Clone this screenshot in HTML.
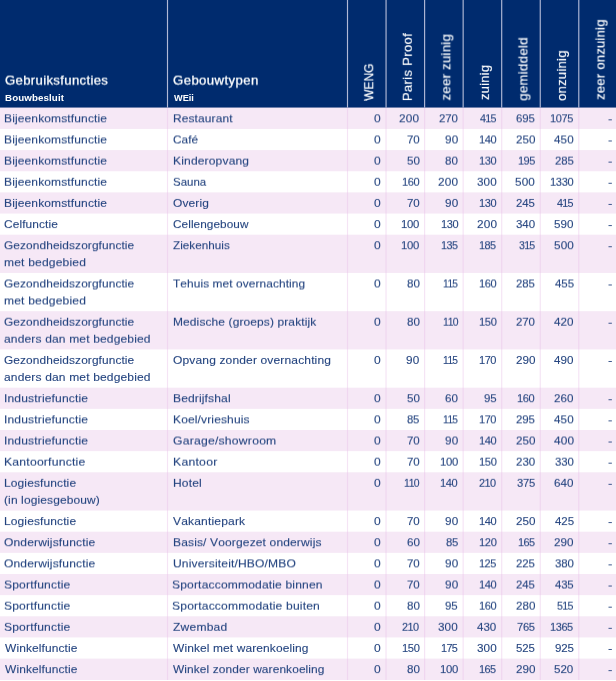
<!DOCTYPE html>
<html lang="nl"><head><meta charset="utf-8"><title>Gebruiksfuncties</title>
<style>
html,body{margin:0;padding:0;background:#fff;}
body{width:616px;height:681px;overflow:hidden;position:relative;font-family:"Liberation Sans",sans-serif;color:#23437f;font-size:11.6px;font-kerning:none;}
#t{position:absolute;left:0;top:0;width:616px;height:681px;overflow:hidden;}
#bg{position:absolute;left:0;top:0;}
.L{position:absolute;left:0;width:620px;transform-origin:0 0;}
.c,.h1,.h2{transform-origin:0 50%;}
.c{position:absolute;white-space:nowrap;line-height:14px;height:14px;top:0;-webkit-text-stroke:0.1px #23437f;}
.c.b{top:17px;}
.h1{position:absolute;color:#fff;font-size:12.1px;white-space:nowrap;line-height:16px;height:16px;-webkit-text-stroke:0.25px #fff;}
.h2{position:absolute;color:#fff;font-size:9.5px;font-weight:bold;-webkit-text-stroke:0px #fff;white-space:nowrap;line-height:14px;height:14px;}
.rh{position:absolute;color:#fff;font-size:12px;white-space:nowrap;line-height:14px;height:14px;transform-origin:0 0;transform:rotate(-90deg);-webkit-text-stroke:0.15px #fff;}
</style></head><body><div id="t">

<svg id="bg" width="616" height="681" viewBox="0 0 616 681"><rect x="0" y="0" width="616" height="681" fill="#fff"/><rect x="-1" y="107.05" width="618" height="21.90" fill="#f6e8f6"/><rect x="-1" y="150.10" width="618" height="21.15" fill="#f6e8f6"/><rect x="-1" y="192.40" width="618" height="21.15" fill="#f6e8f6"/><rect x="-1" y="234.70" width="618" height="38.25" fill="#f6e8f6"/><rect x="-1" y="311.20" width="618" height="38.25" fill="#f6e8f6"/><rect x="-1" y="387.70" width="618" height="21.15" fill="#f6e8f6"/><rect x="-1" y="430.00" width="618" height="21.15" fill="#f6e8f6"/><rect x="-1" y="472.30" width="618" height="38.25" fill="#f6e8f6"/><rect x="-1" y="531.70" width="618" height="21.15" fill="#f6e8f6"/><rect x="-1" y="574.00" width="618" height="21.15" fill="#f6e8f6"/><rect x="-1" y="616.30" width="618" height="21.15" fill="#f6e8f6"/><rect x="-1" y="658.60" width="618" height="21.40" fill="#f6e8f6"/><rect x="-1" y="-1" width="618" height="108.55" fill="#002b6e"/><rect x="166.93" y="-1" width="1.15" height="108.55" fill="#b0b9d6"/><rect x="166.93" y="107.55" width="1.15" height="572.45" fill="#e6bfe6" fill-opacity="0.42"/><rect x="346.93" y="-1" width="1.15" height="108.55" fill="#b0b9d6"/><rect x="346.93" y="107.55" width="1.15" height="572.45" fill="#e6bfe6" fill-opacity="0.42"/><rect x="385.48" y="-1" width="1.15" height="108.55" fill="#b0b9d6"/><rect x="385.48" y="107.55" width="1.15" height="572.45" fill="#e6bfe6" fill-opacity="0.42"/><rect x="424.03" y="-1" width="1.15" height="108.55" fill="#b0b9d6"/><rect x="424.03" y="107.55" width="1.15" height="572.45" fill="#e6bfe6" fill-opacity="0.42"/><rect x="462.57" y="-1" width="1.15" height="108.55" fill="#b0b9d6"/><rect x="462.57" y="107.55" width="1.15" height="572.45" fill="#e6bfe6" fill-opacity="0.42"/><rect x="501.12" y="-1" width="1.15" height="108.55" fill="#b0b9d6"/><rect x="501.12" y="107.55" width="1.15" height="572.45" fill="#e6bfe6" fill-opacity="0.42"/><rect x="539.67" y="-1" width="1.15" height="108.55" fill="#b0b9d6"/><rect x="539.67" y="107.55" width="1.15" height="572.45" fill="#e6bfe6" fill-opacity="0.42"/><rect x="578.22" y="-1" width="1.15" height="108.55" fill="#b0b9d6"/><rect x="578.22" y="107.55" width="1.15" height="572.45" fill="#e6bfe6" fill-opacity="0.42"/></svg>
<div class="L" style="top:72px;height:18px;transform:translate3d(0.00px,0.60px,0) perspective(100000px) rotateX(0.01deg)">
<div class="h1" style="left:4.64px;letter-spacing:0.313px;transform:scaleX(1.0857)">Gebruiksfuncties</div>
<div class="h1" style="left:173.04px;letter-spacing:0.391px;transform:scaleX(1.0870)">Gebouwtypen</div>
</div>
<div class="L" style="top:91px;height:16px;transform:translate3d(0.00px,0.01px,0) perspective(100000px) rotateX(0.01deg)">
<div class="h2" style="left:4.65px;letter-spacing:0.097px;transform:scaleX(1.0267)">Bouwbesluit</div>
<div class="h2" style="left:173.69px;letter-spacing:0.000px;transform:scaleX(0.9648)">WEii</div>
</div>
<div style="position:absolute;left:362px;top:100px;width:16px;height:2px;transform-origin:0 0;transform:translate3d(0.24px,0.85px,0) perspective(100000px) rotateX(0.01deg)"><div class="rh" style="left:0;top:0;letter-spacing:0.016px;transform:rotate(-90deg) scaleX(1.0020)">WENG</div></div>
<div style="position:absolute;left:400px;top:101px;width:16px;height:2px;transform-origin:0 0;transform:translate3d(0.79px,0.07px,0) perspective(100000px) rotateX(0.01deg)"><div class="rh" style="left:0;top:0;letter-spacing:0.306px;transform:rotate(-90deg) scaleX(1.0854)">Paris Proof</div></div>
<div style="position:absolute;left:439px;top:100px;width:16px;height:2px;transform-origin:0 0;transform:translate3d(0.34px,0.43px,0) perspective(100000px) rotateX(0.01deg)"><div class="rh" style="left:0;top:0;letter-spacing:0.299px;transform:rotate(-90deg) scaleX(1.0859)">zeer zuinig</div></div>
<div style="position:absolute;left:477px;top:100px;width:16px;height:2px;transform-origin:0 0;transform:translate3d(0.89px,0.02px,0) perspective(100000px) rotateX(0.01deg)"><div class="rh" style="left:0;top:0;letter-spacing:0.269px;transform:rotate(-90deg) scaleX(1.0719)">zuinig</div></div>
<div style="position:absolute;left:516px;top:100px;width:16px;height:2px;transform-origin:0 0;transform:translate3d(0.44px,0.70px,0) perspective(100000px) rotateX(0.01deg)"><div class="rh" style="left:0;top:0;letter-spacing:0.361px;transform:rotate(-90deg) scaleX(1.0871)">gemiddeld</div></div>
<div style="position:absolute;left:554px;top:100px;width:16px;height:2px;transform-origin:0 0;transform:translate3d(0.99px,0.84px,0) perspective(100000px) rotateX(0.01deg)"><div class="rh" style="left:0;top:0;letter-spacing:0.303px;transform:rotate(-90deg) scaleX(1.0790)">onzuinig</div></div>
<div style="position:absolute;left:593px;top:99px;width:16px;height:2px;transform-origin:0 0;transform:translate3d(0.54px,0.82px,0) perspective(100000px) rotateX(0.01deg)"><div class="rh" style="left:0;top:0;letter-spacing:0.275px;transform:rotate(-90deg) scaleX(1.0760)">zeer onzuinig</div></div>
<div class="L" style="top:111px;height:16px;transform:translate3d(0.00px,0.33px,0) perspective(100000px) rotateX(0.01deg)">
<div class="c" style="left:4.33px;letter-spacing:0.128px;transform:scaleX(1.0352)">Bijeenkomstfunctie</div>
<div class="c" style="left:172.63px;letter-spacing:0.120px;transform:scaleX(1.0299)">Restaurant</div>
<div class="c" style="left:373.79px;letter-spacing:0.000px;transform:scaleX(1.0391)">0</div>
<div class="c" style="left:399.47px;letter-spacing:0.170px;transform:scaleX(1.0189)">200</div>
<div class="c" style="left:439.05px;letter-spacing:-0.082px;transform:scaleX(0.9911)">270</div>
<div class="c" style="left:480.02px;letter-spacing:-0.751px;transform:scaleX(0.9253)">415</div>
<div class="c" style="left:516.25px;letter-spacing:-0.121px;transform:scaleX(0.9870)">695</div>
<div class="c" style="left:550.38px;letter-spacing:-0.434px;transform:scaleX(0.9494)">1075</div>
<div class="c" style="left:607.93px;letter-spacing:0.000px;transform:scaleX(1.1452)">-</div>
</div>
<div class="L" style="top:132px;height:16px;transform:translate3d(0.00px,0.48px,0) perspective(100000px) rotateX(0.01deg)">
<div class="c" style="left:4.33px;letter-spacing:0.128px;transform:scaleX(1.0352)">Bijeenkomstfunctie</div>
<div class="c" style="left:172.52px;letter-spacing:0.087px;transform:scaleX(1.0169)">Café</div>
<div class="c" style="left:373.79px;letter-spacing:0.000px;transform:scaleX(1.0391)">0</div>
<div class="c" style="left:406.78px;letter-spacing:-0.074px;transform:scaleX(0.9938)">70</div>
<div class="c" style="left:444.91px;letter-spacing:0.129px;transform:scaleX(1.0110)">90</div>
<div class="c" style="left:478.96px;letter-spacing:-0.431px;transform:scaleX(0.9543)">140</div>
<div class="c" style="left:515.65px;letter-spacing:0.043px;transform:scaleX(1.0048)">250</div>
<div class="c" style="left:554.08px;letter-spacing:0.073px;transform:scaleX(1.0079)">450</div>
<div class="c" style="left:607.93px;letter-spacing:0.000px;transform:scaleX(1.1452)">-</div>
</div>
<div class="L" style="top:153px;height:16px;transform:translate3d(0.00px,0.63px,0) perspective(100000px) rotateX(0.01deg)">
<div class="c" style="left:4.33px;letter-spacing:0.128px;transform:scaleX(1.0352)">Bijeenkomstfunctie</div>
<div class="c" style="left:172.62px;letter-spacing:0.155px;transform:scaleX(1.0381)">Kinderopvang</div>
<div class="c" style="left:373.79px;letter-spacing:0.000px;transform:scaleX(1.0391)">0</div>
<div class="c" style="left:406.63px;letter-spacing:-0.001px;transform:scaleX(0.9999)">50</div>
<div class="c" style="left:445.11px;letter-spacing:0.031px;transform:scaleX(1.0026)">80</div>
<div class="c" style="left:479.07px;letter-spacing:-0.459px;transform:scaleX(0.9515)">130</div>
<div class="c" style="left:517.75px;letter-spacing:-0.511px;transform:scaleX(0.9463)">195</div>
<div class="c" style="left:554.87px;letter-spacing:-0.140px;transform:scaleX(0.9850)">285</div>
<div class="c" style="left:607.93px;letter-spacing:0.000px;transform:scaleX(1.1452)">-</div>
</div>
<div class="L" style="top:174px;height:16px;transform:translate3d(0.00px,0.78px,0) perspective(100000px) rotateX(0.01deg)">
<div class="c" style="left:4.33px;letter-spacing:0.128px;transform:scaleX(1.0352)">Bijeenkomstfunctie</div>
<div class="c" style="left:172.52px;letter-spacing:0.000px;transform:scaleX(0.9889)">Sauna</div>
<div class="c" style="left:373.79px;letter-spacing:0.000px;transform:scaleX(1.0391)">0</div>
<div class="c" style="left:401.79px;letter-spacing:-0.412px;transform:scaleX(0.9563)">160</div>
<div class="c" style="left:438.02px;letter-spacing:0.170px;transform:scaleX(1.0189)">200</div>
<div class="c" style="left:476.93px;letter-spacing:0.085px;transform:scaleX(1.0093)">300</div>
<div class="c" style="left:515.36px;letter-spacing:0.113px;transform:scaleX(1.0124)">500</div>
<div class="c" style="left:550.09px;letter-spacing:-0.371px;transform:scaleX(0.9565)">1330</div>
<div class="c" style="left:607.93px;letter-spacing:0.000px;transform:scaleX(1.1452)">-</div>
</div>
<div class="L" style="top:195px;height:16px;transform:translate3d(0.00px,0.93px,0) perspective(100000px) rotateX(0.01deg)">
<div class="c" style="left:4.33px;letter-spacing:0.128px;transform:scaleX(1.0352)">Bijeenkomstfunctie</div>
<div class="c" style="left:172.55px;letter-spacing:0.130px;transform:scaleX(1.0306)">Overig</div>
<div class="c" style="left:373.79px;letter-spacing:0.000px;transform:scaleX(1.0391)">0</div>
<div class="c" style="left:406.78px;letter-spacing:-0.074px;transform:scaleX(0.9938)">70</div>
<div class="c" style="left:444.91px;letter-spacing:0.129px;transform:scaleX(1.0110)">90</div>
<div class="c" style="left:479.07px;letter-spacing:-0.459px;transform:scaleX(0.9515)">130</div>
<div class="c" style="left:516.34px;letter-spacing:-0.143px;transform:scaleX(0.9846)">245</div>
<div class="c" style="left:557.12px;letter-spacing:-0.751px;transform:scaleX(0.9253)">415</div>
<div class="c" style="left:607.93px;letter-spacing:0.000px;transform:scaleX(1.1452)">-</div>
</div>
<div class="L" style="top:217px;height:16px;transform:translate3d(0.00px,0.08px,0) perspective(100000px) rotateX(0.01deg)">
<div class="c" style="left:4.21px;letter-spacing:0.100px;transform:scaleX(1.0276)">Celfunctie</div>
<div class="c" style="left:172.52px;letter-spacing:0.069px;transform:scaleX(1.0158)">Cellengebouw</div>
<div class="c" style="left:373.79px;letter-spacing:0.000px;transform:scaleX(1.0391)">0</div>
<div class="c" style="left:401.11px;letter-spacing:-0.233px;transform:scaleX(0.9748)">100</div>
<div class="c" style="left:440.52px;letter-spacing:-0.459px;transform:scaleX(0.9515)">130</div>
<div class="c" style="left:476.57px;letter-spacing:0.170px;transform:scaleX(1.0189)">200</div>
<div class="c" style="left:516.10px;letter-spacing:-0.070px;transform:scaleX(0.9925)">340</div>
<div class="c" style="left:554.36px;letter-spacing:0.003px;transform:scaleX(1.0003)">590</div>
<div class="c" style="left:607.93px;letter-spacing:0.000px;transform:scaleX(1.1452)">-</div>
</div>
<div class="L" style="top:238px;height:34px;transform:translate3d(0.00px,0.23px,0) perspective(100000px) rotateX(0.01deg)">
<div class="c" style="left:4.22px;letter-spacing:0.096px;transform:scaleX(1.0249)">Gezondheidszorgfunctie</div>
<div class="c b" style="left:4.35px;letter-spacing:0.163px;transform:scaleX(1.0406)">met bedgebied</div>
<div class="c" style="left:172.78px;letter-spacing:0.034px;transform:scaleX(1.0083)">Ziekenhuis</div>
<div class="c" style="left:373.79px;letter-spacing:0.000px;transform:scaleX(1.0391)">0</div>
<div class="c" style="left:401.11px;letter-spacing:-0.233px;transform:scaleX(0.9748)">100</div>
<div class="c" style="left:441.05px;letter-spacing:-0.621px;transform:scaleX(0.9354)">135</div>
<div class="c" style="left:479.42px;letter-spacing:-0.572px;transform:scaleX(0.9402)">185</div>
<div class="c" style="left:518.82px;letter-spacing:-0.822px;transform:scaleX(0.9181)">315</div>
<div class="c" style="left:553.91px;letter-spacing:0.113px;transform:scaleX(1.0124)">500</div>
<div class="c" style="left:607.93px;letter-spacing:0.000px;transform:scaleX(1.1452)">-</div>
</div>
<div class="L" style="top:276px;height:34px;transform:translate3d(0.00px,0.48px,0) perspective(100000px) rotateX(0.01deg)">
<div class="c" style="left:4.22px;letter-spacing:0.096px;transform:scaleX(1.0249)">Gezondheidszorgfunctie</div>
<div class="c b" style="left:4.35px;letter-spacing:0.163px;transform:scaleX(1.0406)">met bedgebied</div>
<div class="c" style="left:172.71px;letter-spacing:0.091px;transform:scaleX(1.0245)">Tehuis met overnachting</div>
<div class="c" style="left:373.79px;letter-spacing:0.000px;transform:scaleX(1.0391)">0</div>
<div class="c" style="left:406.56px;letter-spacing:0.031px;transform:scaleX(1.0026)">80</div>
<div class="c" style="left:443.04px;letter-spacing:-1.212px;transform:scaleX(0.8812)">115</div>
<div class="c" style="left:478.89px;letter-spacing:-0.412px;transform:scaleX(0.9563)">160</div>
<div class="c" style="left:516.32px;letter-spacing:-0.140px;transform:scaleX(0.9850)">285</div>
<div class="c" style="left:554.60px;letter-spacing:-0.071px;transform:scaleX(0.9925)">455</div>
<div class="c" style="left:607.93px;letter-spacing:0.000px;transform:scaleX(1.1452)">-</div>
</div>
<div class="L" style="top:314px;height:34px;transform:translate3d(0.00px,0.73px,0) perspective(100000px) rotateX(0.01deg)">
<div class="c" style="left:4.22px;letter-spacing:0.096px;transform:scaleX(1.0249)">Gezondheidszorgfunctie</div>
<div class="c b" style="left:4.32px;letter-spacing:0.143px;transform:scaleX(1.0374)">anders dan met bedgebied</div>
<div class="c" style="left:172.63px;letter-spacing:0.112px;transform:scaleX(1.0321)">Medische (groeps) praktijk</div>
<div class="c" style="left:373.79px;letter-spacing:0.000px;transform:scaleX(1.0391)">0</div>
<div class="c" style="left:406.56px;letter-spacing:0.031px;transform:scaleX(1.0026)">80</div>
<div class="c" style="left:442.51px;letter-spacing:-1.030px;transform:scaleX(0.8974)">110</div>
<div class="c" style="left:478.74px;letter-spacing:-0.371px;transform:scaleX(0.9604)">150</div>
<div class="c" style="left:516.15px;letter-spacing:-0.082px;transform:scaleX(0.9911)">270</div>
<div class="c" style="left:554.10px;letter-spacing:0.067px;transform:scaleX(1.0073)">420</div>
<div class="c" style="left:607.93px;letter-spacing:0.000px;transform:scaleX(1.1452)">-</div>
</div>
<div class="L" style="top:352px;height:34px;transform:translate3d(0.00px,0.98px,0) perspective(100000px) rotateX(0.01deg)">
<div class="c" style="left:4.22px;letter-spacing:0.096px;transform:scaleX(1.0249)">Gezondheidszorgfunctie</div>
<div class="c b" style="left:4.32px;letter-spacing:0.143px;transform:scaleX(1.0374)">anders dan met bedgebied</div>
<div class="c" style="left:172.55px;letter-spacing:0.139px;transform:scaleX(1.0367)">Opvang zonder overnachting</div>
<div class="c" style="left:373.79px;letter-spacing:0.000px;transform:scaleX(1.0391)">0</div>
<div class="c" style="left:406.36px;letter-spacing:0.129px;transform:scaleX(1.0110)">90</div>
<div class="c" style="left:443.04px;letter-spacing:-1.212px;transform:scaleX(0.8812)">115</div>
<div class="c" style="left:479.10px;letter-spacing:-0.469px;transform:scaleX(0.9505)">170</div>
<div class="c" style="left:515.58px;letter-spacing:0.061px;transform:scaleX(1.0067)">290</div>
<div class="c" style="left:554.30px;letter-spacing:0.019px;transform:scaleX(1.0021)">490</div>
<div class="c" style="left:607.93px;letter-spacing:0.000px;transform:scaleX(1.1452)">-</div>
</div>
<div class="L" style="top:391px;height:16px;transform:translate3d(0.00px,0.23px,0) perspective(100000px) rotateX(0.01deg)">
<div class="c" style="left:4.20px;letter-spacing:0.137px;transform:scaleX(1.0416)">Industriefunctie</div>
<div class="c" style="left:172.62px;letter-spacing:0.131px;transform:scaleX(1.0389)">Bedrijfshal</div>
<div class="c" style="left:373.79px;letter-spacing:0.000px;transform:scaleX(1.0391)">0</div>
<div class="c" style="left:406.63px;letter-spacing:-0.001px;transform:scaleX(0.9999)">50</div>
<div class="c" style="left:445.08px;letter-spacing:0.044px;transform:scaleX(1.0037)">60</div>
<div class="c" style="left:483.99px;letter-spacing:-0.159px;transform:scaleX(0.9868)">95</div>
<div class="c" style="left:517.44px;letter-spacing:-0.412px;transform:scaleX(0.9563)">160</div>
<div class="c" style="left:554.35px;letter-spacing:0.006px;transform:scaleX(1.0007)">260</div>
<div class="c" style="left:607.93px;letter-spacing:0.000px;transform:scaleX(1.1452)">-</div>
</div>
<div class="L" style="top:412px;height:16px;transform:translate3d(0.00px,0.38px,0) perspective(100000px) rotateX(0.01deg)">
<div class="c" style="left:4.20px;letter-spacing:0.137px;transform:scaleX(1.0416)">Industriefunctie</div>
<div class="c" style="left:172.63px;letter-spacing:0.128px;transform:scaleX(1.0364)">Koel/vrieshuis</div>
<div class="c" style="left:373.79px;letter-spacing:0.000px;transform:scaleX(1.0391)">0</div>
<div class="c" style="left:407.09px;letter-spacing:-0.263px;transform:scaleX(0.9784)">85</div>
<div class="c" style="left:443.04px;letter-spacing:-1.212px;transform:scaleX(0.8812)">115</div>
<div class="c" style="left:479.10px;letter-spacing:-0.469px;transform:scaleX(0.9505)">170</div>
<div class="c" style="left:516.10px;letter-spacing:-0.084px;transform:scaleX(0.9909)">295</div>
<div class="c" style="left:554.08px;letter-spacing:0.073px;transform:scaleX(1.0079)">450</div>
<div class="c" style="left:607.93px;letter-spacing:0.000px;transform:scaleX(1.1452)">-</div>
</div>
<div class="L" style="top:433px;height:16px;transform:translate3d(0.00px,0.53px,0) perspective(100000px) rotateX(0.01deg)">
<div class="c" style="left:4.20px;letter-spacing:0.137px;transform:scaleX(1.0416)">Industriefunctie</div>
<div class="c" style="left:172.51px;letter-spacing:0.213px;transform:scaleX(1.0499)">Garage/showroom</div>
<div class="c" style="left:373.79px;letter-spacing:0.000px;transform:scaleX(1.0391)">0</div>
<div class="c" style="left:406.78px;letter-spacing:-0.074px;transform:scaleX(0.9938)">70</div>
<div class="c" style="left:444.91px;letter-spacing:0.129px;transform:scaleX(1.0110)">90</div>
<div class="c" style="left:478.96px;letter-spacing:-0.431px;transform:scaleX(0.9543)">140</div>
<div class="c" style="left:515.65px;letter-spacing:0.043px;transform:scaleX(1.0048)">250</div>
<div class="c" style="left:553.61px;letter-spacing:0.185px;transform:scaleX(1.0203)">400</div>
<div class="c" style="left:607.93px;letter-spacing:0.000px;transform:scaleX(1.1452)">-</div>
</div>
<div class="L" style="top:454px;height:16px;transform:translate3d(0.00px,0.68px,0) perspective(100000px) rotateX(0.01deg)">
<div class="c" style="left:4.31px;letter-spacing:0.188px;transform:scaleX(1.0525)">Kantoorfunctie</div>
<div class="c" style="left:172.61px;letter-spacing:0.226px;transform:scaleX(1.0543)">Kantoor</div>
<div class="c" style="left:373.79px;letter-spacing:0.000px;transform:scaleX(1.0391)">0</div>
<div class="c" style="left:406.78px;letter-spacing:-0.074px;transform:scaleX(0.9938)">70</div>
<div class="c" style="left:439.66px;letter-spacing:-0.233px;transform:scaleX(0.9748)">100</div>
<div class="c" style="left:478.74px;letter-spacing:-0.371px;transform:scaleX(0.9604)">150</div>
<div class="c" style="left:515.97px;letter-spacing:-0.037px;transform:scaleX(0.9960)">230</div>
<div class="c" style="left:554.88px;letter-spacing:-0.126px;transform:scaleX(0.9866)">330</div>
<div class="c" style="left:607.93px;letter-spacing:0.000px;transform:scaleX(1.1452)">-</div>
</div>
<div class="L" style="top:475px;height:34px;transform:translate3d(0.00px,0.83px,0) perspective(100000px) rotateX(0.01deg)">
<div class="c" style="left:4.33px;letter-spacing:0.119px;transform:scaleX(1.0330)">Logiesfunctie</div>
<div class="c b" style="left:4.07px;letter-spacing:0.118px;transform:scaleX(1.0328)">(in logiesgebouw)</div>
<div class="c" style="left:172.63px;letter-spacing:0.146px;transform:scaleX(1.0358)">Hotel</div>
<div class="c" style="left:373.79px;letter-spacing:0.000px;transform:scaleX(1.0391)">0</div>
<div class="c" style="left:403.96px;letter-spacing:-1.030px;transform:scaleX(0.8974)">110</div>
<div class="c" style="left:440.41px;letter-spacing:-0.431px;transform:scaleX(0.9543)">140</div>
<div class="c" style="left:479.40px;letter-spacing:-0.556px;transform:scaleX(0.9428)">210</div>
<div class="c" style="left:516.88px;letter-spacing:-0.285px;transform:scaleX(0.9700)">375</div>
<div class="c" style="left:554.33px;letter-spacing:0.011px;transform:scaleX(1.0012)">640</div>
<div class="c" style="left:607.93px;letter-spacing:0.000px;transform:scaleX(1.1452)">-</div>
</div>
<div class="L" style="top:514px;height:16px;transform:translate3d(0.00px,0.08px,0) perspective(100000px) rotateX(0.01deg)">
<div class="c" style="left:4.33px;letter-spacing:0.119px;transform:scaleX(1.0330)">Logiesfunctie</div>
<div class="c" style="left:172.93px;letter-spacing:0.155px;transform:scaleX(1.0392)">Vakantiepark</div>
<div class="c" style="left:373.79px;letter-spacing:0.000px;transform:scaleX(1.0391)">0</div>
<div class="c" style="left:406.78px;letter-spacing:-0.074px;transform:scaleX(0.9938)">70</div>
<div class="c" style="left:444.91px;letter-spacing:0.129px;transform:scaleX(1.0110)">90</div>
<div class="c" style="left:478.96px;letter-spacing:-0.431px;transform:scaleX(0.9543)">140</div>
<div class="c" style="left:515.65px;letter-spacing:0.043px;transform:scaleX(1.0048)">250</div>
<div class="c" style="left:554.62px;letter-spacing:-0.077px;transform:scaleX(0.9918)">425</div>
<div class="c" style="left:607.93px;letter-spacing:0.000px;transform:scaleX(1.1452)">-</div>
</div>
<div class="L" style="top:535px;height:16px;transform:translate3d(0.00px,0.23px,0) perspective(100000px) rotateX(0.01deg)">
<div class="c" style="left:4.25px;letter-spacing:0.141px;transform:scaleX(1.0388)">Onderwijsfunctie</div>
<div class="c" style="left:172.63px;letter-spacing:0.132px;transform:scaleX(1.0372)">Basis/ Voorgezet onderwijs</div>
<div class="c" style="left:373.79px;letter-spacing:0.000px;transform:scaleX(1.0391)">0</div>
<div class="c" style="left:406.53px;letter-spacing:0.044px;transform:scaleX(1.0037)">60</div>
<div class="c" style="left:445.64px;letter-spacing:-0.263px;transform:scaleX(0.9784)">85</div>
<div class="c" style="left:478.70px;letter-spacing:-0.362px;transform:scaleX(0.9614)">120</div>
<div class="c" style="left:517.97px;letter-spacing:-0.572px;transform:scaleX(0.9402)">165</div>
<div class="c" style="left:554.13px;letter-spacing:0.061px;transform:scaleX(1.0067)">290</div>
<div class="c" style="left:607.93px;letter-spacing:0.000px;transform:scaleX(1.1452)">-</div>
</div>
<div class="L" style="top:556px;height:16px;transform:translate3d(0.00px,0.38px,0) perspective(100000px) rotateX(0.01deg)">
<div class="c" style="left:4.25px;letter-spacing:0.141px;transform:scaleX(1.0388)">Onderwijsfunctie</div>
<div class="c" style="left:172.68px;letter-spacing:0.151px;transform:scaleX(1.0393)">Universiteit/HBO/MBO</div>
<div class="c" style="left:373.79px;letter-spacing:0.000px;transform:scaleX(1.0391)">0</div>
<div class="c" style="left:406.78px;letter-spacing:-0.074px;transform:scaleX(0.9938)">70</div>
<div class="c" style="left:444.91px;letter-spacing:0.129px;transform:scaleX(1.0110)">90</div>
<div class="c" style="left:479.23px;letter-spacing:-0.521px;transform:scaleX(0.9453)">125</div>
<div class="c" style="left:516.14px;letter-spacing:-0.092px;transform:scaleX(0.9900)">225</div>
<div class="c" style="left:554.70px;letter-spacing:-0.082px;transform:scaleX(0.9912)">380</div>
<div class="c" style="left:607.93px;letter-spacing:0.000px;transform:scaleX(1.1452)">-</div>
</div>
<div class="L" style="top:577px;height:16px;transform:translate3d(0.00px,0.53px,0) perspective(100000px) rotateX(0.01deg)">
<div class="c" style="left:4.19px;letter-spacing:0.153px;transform:scaleX(1.0434)">Sportfunctie</div>
<div class="c" style="left:172.49px;letter-spacing:0.156px;transform:scaleX(1.0399)">Sportaccommodatie binnen</div>
<div class="c" style="left:373.79px;letter-spacing:0.000px;transform:scaleX(1.0391)">0</div>
<div class="c" style="left:406.78px;letter-spacing:-0.074px;transform:scaleX(0.9938)">70</div>
<div class="c" style="left:444.91px;letter-spacing:0.129px;transform:scaleX(1.0110)">90</div>
<div class="c" style="left:478.96px;letter-spacing:-0.431px;transform:scaleX(0.9543)">140</div>
<div class="c" style="left:516.34px;letter-spacing:-0.143px;transform:scaleX(0.9846)">245</div>
<div class="c" style="left:554.98px;letter-spacing:-0.168px;transform:scaleX(0.9822)">435</div>
<div class="c" style="left:607.93px;letter-spacing:0.000px;transform:scaleX(1.1452)">-</div>
</div>
<div class="L" style="top:598px;height:16px;transform:translate3d(0.00px,0.68px,0) perspective(100000px) rotateX(0.01deg)">
<div class="c" style="left:4.19px;letter-spacing:0.153px;transform:scaleX(1.0434)">Sportfunctie</div>
<div class="c" style="left:172.49px;letter-spacing:0.164px;transform:scaleX(1.0431)">Sportaccommodatie buiten</div>
<div class="c" style="left:373.79px;letter-spacing:0.000px;transform:scaleX(1.0391)">0</div>
<div class="c" style="left:406.56px;letter-spacing:0.031px;transform:scaleX(1.0026)">80</div>
<div class="c" style="left:445.44px;letter-spacing:-0.159px;transform:scaleX(0.9868)">95</div>
<div class="c" style="left:478.89px;letter-spacing:-0.412px;transform:scaleX(0.9563)">160</div>
<div class="c" style="left:515.80px;letter-spacing:0.006px;transform:scaleX(1.0007)">280</div>
<div class="c" style="left:557.26px;letter-spacing:-0.788px;transform:scaleX(0.9211)">515</div>
<div class="c" style="left:607.93px;letter-spacing:0.000px;transform:scaleX(1.1452)">-</div>
</div>
<div class="L" style="top:619px;height:16px;transform:translate3d(0.00px,0.83px,0) perspective(100000px) rotateX(0.01deg)">
<div class="c" style="left:4.19px;letter-spacing:0.153px;transform:scaleX(1.0434)">Sportfunctie</div>
<div class="c" style="left:172.77px;letter-spacing:0.207px;transform:scaleX(1.0388)">Zwembad</div>
<div class="c" style="left:373.79px;letter-spacing:0.000px;transform:scaleX(1.0391)">0</div>
<div class="c" style="left:402.30px;letter-spacing:-0.556px;transform:scaleX(0.9428)">210</div>
<div class="c" style="left:438.38px;letter-spacing:0.085px;transform:scaleX(1.0093)">300</div>
<div class="c" style="left:477.36px;letter-spacing:-0.021px;transform:scaleX(0.9977)">430</div>
<div class="c" style="left:517.06px;letter-spacing:-0.330px;transform:scaleX(0.9651)">765</div>
<div class="c" style="left:550.44px;letter-spacing:-0.445px;transform:scaleX(0.9482)">1365</div>
<div class="c" style="left:607.93px;letter-spacing:0.000px;transform:scaleX(1.1452)">-</div>
</div>
<div class="L" style="top:640px;height:16px;transform:translate3d(0.00px,0.98px,0) perspective(100000px) rotateX(0.01deg)">
<div class="c" style="left:4.55px;letter-spacing:0.113px;transform:scaleX(1.0307)">Winkelfunctie</div>
<div class="c" style="left:172.85px;letter-spacing:0.114px;transform:scaleX(1.0302)">Winkel met warenkoeling</div>
<div class="c" style="left:373.79px;letter-spacing:0.000px;transform:scaleX(1.0391)">0</div>
<div class="c" style="left:401.64px;letter-spacing:-0.371px;transform:scaleX(0.9604)">150</div>
<div class="c" style="left:441.08px;letter-spacing:-0.631px;transform:scaleX(0.9344)">175</div>
<div class="c" style="left:476.93px;letter-spacing:0.085px;transform:scaleX(1.0093)">300</div>
<div class="c" style="left:516.37px;letter-spacing:-0.153px;transform:scaleX(0.9837)">525</div>
<div class="c" style="left:554.66px;letter-spacing:-0.085px;transform:scaleX(0.9908)">925</div>
<div class="c" style="left:607.93px;letter-spacing:0.000px;transform:scaleX(1.1452)">-</div>
</div>
<div class="L" style="top:662px;height:16px;transform:translate3d(0.00px,0.13px,0) perspective(100000px) rotateX(0.01deg)">
<div class="c" style="left:4.55px;letter-spacing:0.113px;transform:scaleX(1.0307)">Winkelfunctie</div>
<div class="c" style="left:172.85px;letter-spacing:0.100px;transform:scaleX(1.0268)">Winkel zonder warenkoeling</div>
<div class="c" style="left:373.79px;letter-spacing:0.000px;transform:scaleX(1.0391)">0</div>
<div class="c" style="left:406.56px;letter-spacing:0.031px;transform:scaleX(1.0026)">80</div>
<div class="c" style="left:439.66px;letter-spacing:-0.233px;transform:scaleX(0.9748)">100</div>
<div class="c" style="left:479.42px;letter-spacing:-0.572px;transform:scaleX(0.9402)">165</div>
<div class="c" style="left:515.58px;letter-spacing:0.061px;transform:scaleX(1.0067)">290</div>
<div class="c" style="left:554.40px;letter-spacing:-0.006px;transform:scaleX(0.9993)">520</div>
<div class="c" style="left:607.93px;letter-spacing:0.000px;transform:scaleX(1.1452)">-</div>
</div>
</div></body></html>
